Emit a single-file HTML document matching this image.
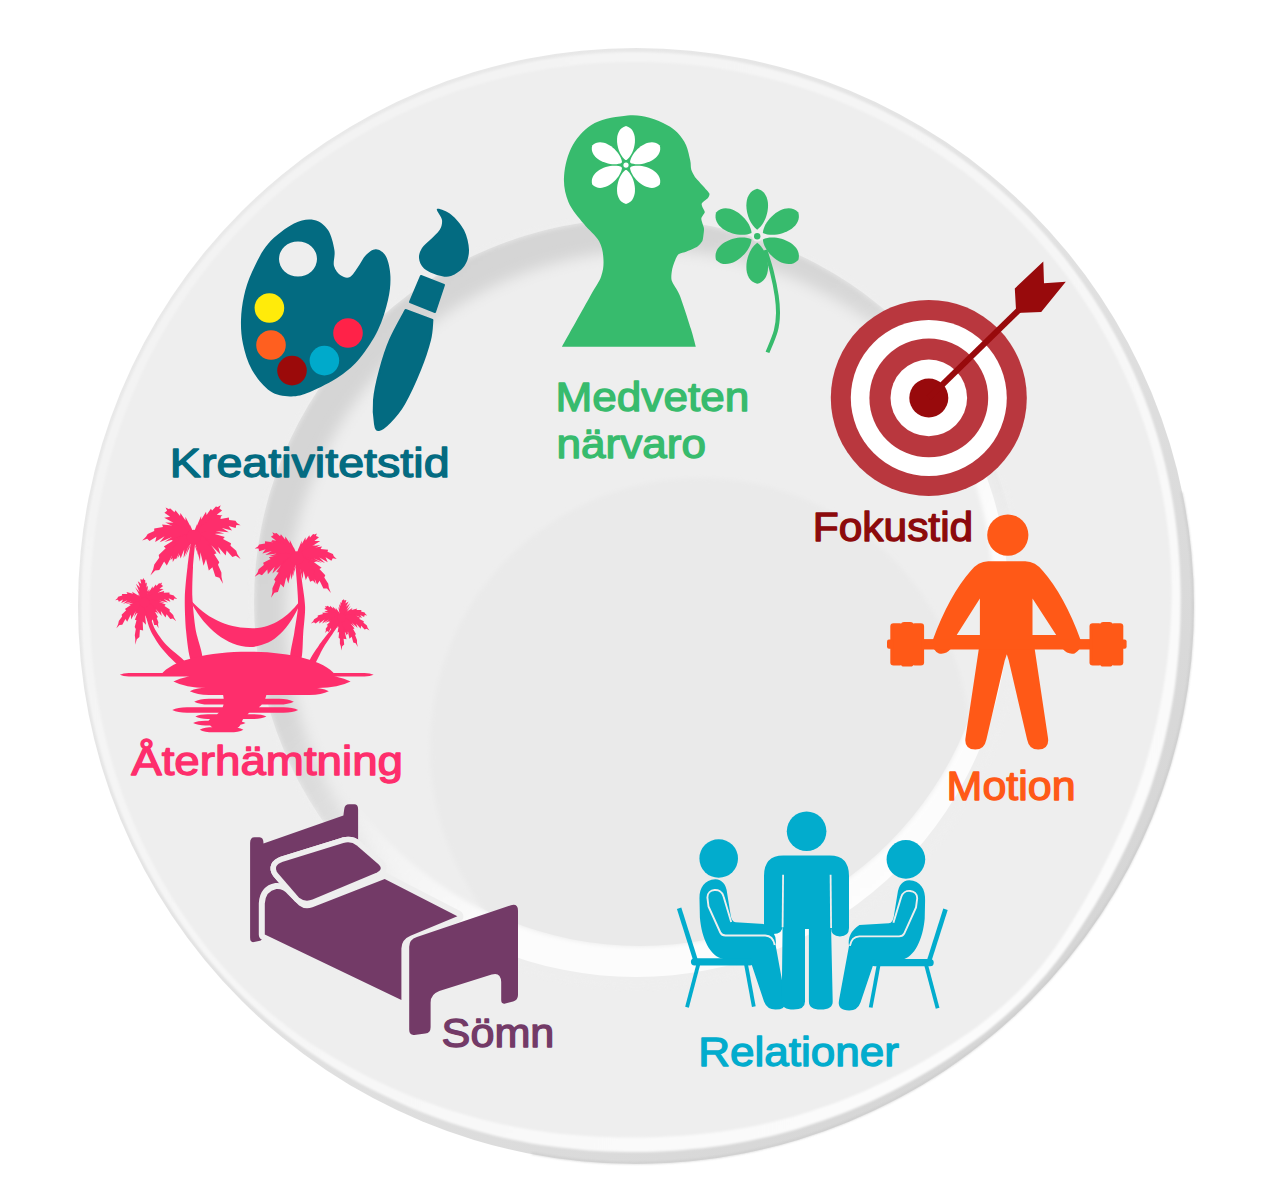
<!DOCTYPE html>
<html lang="sv">
<head>
<meta charset="utf-8">
<title>Hjärnans tallrik</title>
<style>
html,body{margin:0;padding:0;background:#fff;}
body{width:1280px;height:1200px;overflow:hidden;}
svg{display:block;}
text{font-family:"Liberation Sans",sans-serif;}
</style>
</head>
<body>
<svg width="1280" height="1200" viewBox="0 0 1280 1200">
<!-- plate -->
<defs>
  <linearGradient id="rimG" x1="0.15" y1="0.15" x2="0.85" y2="0.85">
    <stop offset="0" stop-color="#e9e9e9"/>
    <stop offset="0.5" stop-color="#e2e2e2"/>
    <stop offset="1" stop-color="#d6d6d6"/>
  </linearGradient>
  <linearGradient id="whiteG" x1="0.15" y1="0.15" x2="0.85" y2="0.85">
    <stop offset="0" stop-color="#f3f3f3"/>
    <stop offset="0.5" stop-color="#f6f6f6"/>
    <stop offset="1" stop-color="#fbfbfb"/>
  </linearGradient>
  <linearGradient id="shadG" x1="0.2" y1="0.1" x2="0.8" y2="0.9">
    <stop offset="0" stop-color="#d4d4d4"/>
    <stop offset="0.35" stop-color="#d7d7d7"/>
    <stop offset="0.6" stop-color="#e6e6e6"/>
    <stop offset="0.75" stop-color="#eeeeee"/>
  </linearGradient>
  <linearGradient id="hiG" gradientUnits="userSpaceOnUse" x1="380" y1="300" x2="900" y2="900">
    <stop offset="0" stop-color="#fcfcfc" stop-opacity="0"/>
    <stop offset="0.45" stop-color="#fcfcfc" stop-opacity="0"/>
    <stop offset="0.7" stop-color="#fcfcfc" stop-opacity="1"/>
    <stop offset="1" stop-color="#fdfdfd" stop-opacity="1"/>
  </linearGradient>
  <radialGradient id="faceG" gradientUnits="userSpaceOnUse" cx="630" cy="600" r="545">
    <stop offset="0" stop-color="#eeeeee"/>
    <stop offset="1" stop-color="#eeeeee"/>
  </radialGradient>
  <filter id="soft" x="-5%" y="-5%" width="110%" height="110%"><feGaussianBlur stdDeviation="2"/></filter>
  <filter id="soft1" x="-5%" y="-5%" width="110%" height="110%"><feGaussianBlur stdDeviation="0.8"/></filter>
  <filter id="soft7" x="-5%" y="-5%" width="110%" height="110%"><feGaussianBlur stdDeviation="7"/></filter>
  <filter id="soft9" x="-5%" y="-5%" width="110%" height="110%"><feGaussianBlur stdDeviation="9"/></filter>
  <filter id="soft2" x="-10%" y="-10%" width="120%" height="120%"><feGaussianBlur stdDeviation="12"/></filter>
  <clipPath id="wellClip"><circle cx="637" cy="602" r="383"/></clipPath>
  <clipPath id="hiClip"><circle cx="636" cy="604" r="373"/></clipPath>
  <clipPath id="innerClip"><circle cx="640" cy="594" r="352"/></clipPath>
  <clipPath id="plateClip"><circle cx="636" cy="606" r="558"/></clipPath>
</defs>
<rect width="1280" height="1200" fill="#ffffff"/>
<circle cx="636" cy="606" r="558" fill="url(#rimG)"/>
<circle cx="636" cy="606" r="557.2" fill="none" stroke="#c9c9c9" stroke-width="1.6" stroke-dasharray="1100 2406" stroke-dashoffset="120" opacity="0.9" filter="url(#soft1)"/>
<g clip-path="url(#plateClip)">
<path d="M81 606 L81.1 596.3 L81.4 586.6 L81.8 577 L82.4 567.3 L83.2 557.6 L84.1 548 L85.2 538.4 L86.5 528.8 L87.9 519.2 L89.5 509.6 L91.3 500.1 L93.3 490.6 L95.4 481.2 L97.6 471.8 L100.1 462.4 L102.7 453.1 L105.4 443.8 L108.4 434.6 L111.4 425.4 L114.7 416.3 L118.1 407.2 L121.6 398.2 L125.4 389.2 L129.2 380.4 L133.3 371.6 L137.4 362.8 L141.8 354.2 L146.2 345.6 L150.9 337.1 L155.6 328.7 L160.6 320.3 L165.6 312.1 L170.8 303.9 L176.2 295.9 L181.7 287.9 L187.3 280 L193.1 272.2 L199 264.6 L205 257 L211.2 249.5 L217.5 242.2 L223.9 234.9 L230.4 227.8 L237.1 220.8 L243.9 213.9 L250.8 207.1 L257.8 200.5 L265 194 L272.2 187.5 L279.6 181.3 L287.1 175.1 L294.7 169.1 L302.3 163.2 L310.1 157.5 L318 151.9 L326 146.4 L334.1 141.1 L342.2 135.9 L350.5 130.8 L358.8 125.9 L367.3 121.2 L375.8 116.6 L384.4 112.1 L393 107.8 L401.8 103.7 L410.6 99.7 L419.4 95.8 L428.4 92.1 L437.4 88.6 L446.4 85.2 L455.6 82 L464.7 78.9 L474 76 L483.2 73.3 L492.6 70.7 L501.9 68.3 L511.3 66.1 L520.8 64 L530.3 62.1 L539.8 60.3 L549.3 58.7 L558.9 57.3 L568.5 56.1 L578.1 55 L587.7 54.1 L597.4 53.3 L607 52.7 L616.7 52.3 L626.3 52.1 L636 52 L645.7 52.1 L655.3 52.4 L665 52.8 L674.6 53.4 L684.3 54.2 L693.9 55.2 L703.5 56.3 L713.1 57.6 L722.6 59 L732.2 60.6 L741.7 62.4 L751.1 64.4 L760.6 66.5 L769.9 68.8 L779.3 71.2 L788.6 73.8 L797.9 76.6 L807.1 79.5 L816.2 82.6 L825.3 85.8 L834.4 89.2 L843.3 92.8 L852.3 96.5 L861.1 100.4 L869.9 104.4 L878.6 108.6 L887.2 112.9 L895.8 117.4 L904.3 122 L912.7 126.8 L921 131.7 L929.2 136.8 L937.3 142 L945.4 147.3 L953.3 152.8 L961.2 158.5 L968.9 164.2 L976.6 170.1 L984.1 176.1 L991.5 182.3 L998.8 188.6 L1006 195.1 L1013.1 201.6 L1020 208.3 L1026.9 215.1 L1033.5 222.1 L1040.1 229.2 L1046.5 236.3 L1052.8 243.7 L1059 251.1 L1065 258.6 L1070.9 266.2 L1076.6 274 L1082.2 281.8 L1087.7 289.7 L1093 297.8 L1098.2 305.9 L1103.2 314.1 L1108.1 322.3 L1112.8 330.7 L1117.4 339.1 L1121.9 347.7 L1126.2 356.3 L1130.3 364.9 L1134.3 373.7 L1138.1 382.5 L1141.7 391.3 L1145.2 400.3 L1148.6 409.2 L1151.7 418.3 L1154.7 427.4 L1157.6 436.5 L1160.2 445.7 L1162.7 455 L1165.1 464.2 L1167.2 473.5 L1169.2 482.9 L1171 492.3 L1172.7 501.7 L1174.2 511.1 L1175.5 520.5 L1176.7 530 L1177.7 539.5 L1178.5 549 L1179.2 558.5 L1179.8 568 L1180.2 577.5 L1180.5 587 L1180.7 596.5 L1180.6 606 L1180.5 615.5 L1180.2 625 L1179.8 634.5 L1179.2 644 L1178.5 653.5 L1177.6 662.9 L1176.6 672.4 L1175.5 681.8 L1174.2 691.2 L1172.7 700.6 L1171 710 L1169.2 719.3 L1167.2 728.6 L1165.1 737.9 L1162.8 747.2 L1160.3 756.4 L1157.7 765.5 L1154.9 774.6 L1152 783.7 L1148.9 792.7 L1145.6 801.6 L1142.2 810.5 L1138.6 819.3 L1134.9 828.1 L1131 836.8 L1127 845.5 L1122.8 854.1 L1118.6 862.6 L1114.2 871.1 L1109.7 879.5 L1105.1 887.8 L1100.3 896.1 L1095.4 904.4 L1090.4 912.5 L1085.3 920.6 L1080.1 928.6 L1074.7 936.6 L1069.2 944.5 L1063.6 952.3 L1057.8 959.9 L1051.8 967.4 L1045.7 974.9 L1039.3 982.1 L1032.8 989.2 L1026.2 996.2 L1019.3 1002.9 L1012.3 1009.5 L1005.2 1016 L997.9 1022.3 L990.5 1028.4 L983 1034.5 L975.2 1040.2 L967.4 1045.8 L959.5 1051.3 L951.6 1056.7 L943.5 1061.9 L935.4 1067 L927.2 1071.9 L918.9 1076.8 L910.5 1081.5 L902.1 1086 L893.6 1090.4 L885 1094.7 L876.4 1098.9 L867.7 1102.9 L858.9 1106.7 L850.1 1110.4 L841.2 1113.9 L832.3 1117.3 L823.3 1120.6 L814.2 1123.6 L805.1 1126.6 L796 1129.4 L786.8 1132 L777.6 1134.4 L768.3 1136.7 L759 1138.8 L749.7 1140.8 L740.3 1142.6 L730.9 1144.2 L721.5 1145.7 L712 1147 L702.6 1148.2 L693.1 1149.1 L683.6 1150 L674.1 1150.7 L664.6 1151.2 L655.1 1151.7 L645.5 1151.9 L636 1152 L626.5 1152 L616.9 1151.8 L607.4 1151.4 L597.9 1151 L588.4 1150.4 L578.9 1149.6 L569.4 1148.6 L559.9 1147.6 L550.4 1146.3 L541 1144.9 L531.5 1143.4 L522.1 1141.6 L512.8 1139.7 L503.4 1137.7 L494.1 1135.5 L484.9 1133.1 L475.6 1130.5 L466.4 1127.8 L457.3 1125 L448.2 1122 L439.2 1118.8 L430.2 1115.5 L421.2 1112 L412.3 1108.4 L403.5 1104.6 L394.8 1100.6 L386.1 1096.5 L377.4 1092.3 L368.9 1087.9 L360.4 1083.4 L352 1078.7 L343.7 1073.8 L335.4 1068.8 L327.3 1063.7 L319.2 1058.4 L311.2 1053 L303.4 1047.4 L295.6 1041.7 L287.9 1035.9 L280.3 1029.9 L272.8 1023.8 L265.5 1017.5 L258.3 1011.1 L251.2 1004.5 L244.2 997.8 L237.3 991 L230.6 984.1 L224 977 L217.5 969.8 L211.2 962.5 L205 955 L198.9 947.5 L193 939.8 L187.3 932 L181.6 924.2 L176.1 916.2 L170.8 908.1 L165.5 900 L160.5 891.7 L155.5 883.4 L150.7 875 L146.1 866.5 L141.6 857.9 L137.3 849.2 L133.1 840.5 L129.1 831.7 L125.2 822.8 L121.5 813.9 L117.9 804.9 L114.5 795.8 L111.3 786.7 L108.2 777.5 L105.3 768.3 L102.5 759 L99.9 749.6 L97.5 740.3 L95.2 730.8 L93.1 721.4 L91.2 711.9 L89.4 702.4 L87.8 692.8 L86.4 683.2 L85.1 673.6 L84 664 L83.1 654.4 L82.4 644.7 L81.8 635 L81.3 625.4 L81.1 615.7Z" fill="url(#whiteG)" filter="url(#soft1)"/>
<path d="M89.9 606 L90 596.5 L90.2 586.9 L90.7 577.4 L91.3 567.9 L92 558.4 L92.9 548.9 L94 539.4 L95.2 530 L96.6 520.6 L98.2 511.2 L99.9 501.8 L101.8 492.5 L103.9 483.1 L106.1 473.9 L108.4 464.6 L111 455.5 L113.7 446.3 L116.5 437.2 L119.5 428.2 L122.7 419.2 L126 410.2 L129.5 401.4 L133.2 392.6 L137 383.8 L140.9 375.1 L145 366.5 L149.2 358 L153.6 349.5 L158.2 341.1 L162.9 332.8 L167.7 324.6 L172.7 316.5 L177.8 308.4 L183 300.5 L188.4 292.6 L194 284.8 L199.6 277.2 L205.4 269.6 L211.3 262.1 L217.4 254.8 L223.6 247.5 L229.9 240.4 L236.4 233.3 L243 226.4 L249.7 219.7 L256.5 213 L263.4 206.4 L270.5 200 L277.6 193.7 L284.9 187.6 L292.3 181.5 L299.8 175.7 L307.4 169.9 L315.1 164.3 L322.9 158.8 L330.7 153.4 L338.7 148.2 L346.8 143.2 L354.9 138.2 L363.2 133.4 L371.5 128.8 L379.9 124.3 L388.3 120 L396.9 115.8 L405.5 111.7 L414.2 107.8 L422.9 104.1 L431.8 100.5 L440.6 97 L449.6 93.8 L458.5 90.6 L467.6 87.7 L476.7 84.9 L485.8 82.2 L495 79.7 L504.2 77.4 L513.5 75.2 L522.8 73.2 L532.1 71.4 L541.4 69.7 L550.8 68.2 L560.2 66.9 L569.7 65.7 L579.1 64.6 L588.6 63.8 L598 63.1 L607.5 62.5 L617 62.2 L626.5 61.9 L636 61.9 L645.5 62 L655 62.3 L664.5 62.7 L673.9 63.3 L683.4 64.1 L692.9 65 L702.3 66.1 L711.7 67.3 L721.1 68.7 L730.5 70.3 L739.8 72 L749.1 73.9 L758.4 75.9 L767.6 78.2 L776.8 80.5 L785.9 83.1 L795.1 85.8 L804.1 88.6 L813.1 91.6 L822.1 94.8 L831 98.1 L839.8 101.6 L848.6 105.2 L857.3 109 L865.9 113 L874.5 117.1 L883 121.3 L891.4 125.7 L899.7 130.2 L908 134.9 L916.2 139.7 L924.3 144.7 L932.3 149.8 L940.2 155 L948 160.4 L955.8 165.9 L963.4 171.5 L970.9 177.3 L978.4 183.2 L985.7 189.3 L992.9 195.5 L999.9 201.8 L1006.9 208.3 L1013.7 214.8 L1020.5 221.5 L1027 228.4 L1033.5 235.3 L1039.8 242.4 L1046 249.6 L1052.1 256.9 L1058 264.3 L1063.8 271.8 L1069.4 279.4 L1074.9 287.1 L1080.3 294.9 L1085.5 302.8 L1090.6 310.8 L1095.6 318.8 L1100.4 327 L1105 335.2 L1109.6 343.5 L1113.9 351.9 L1118.1 360.3 L1122.2 368.9 L1126.1 377.5 L1129.9 386.1 L1133.5 394.8 L1136.9 403.6 L1140.2 412.5 L1143.3 421.3 L1146.3 430.3 L1149.1 439.3 L1151.7 448.3 L1154.2 457.4 L1156.5 466.5 L1158.6 475.7 L1160.6 484.9 L1162.4 494.1 L1164.1 503.3 L1165.6 512.6 L1166.9 521.9 L1168.1 531.2 L1169.1 540.5 L1169.9 549.9 L1170.6 559.2 L1171.1 568.6 L1171.4 577.9 L1171.6 587.3 L1171.6 596.7 L1171.5 606 L1171.1 615.3 L1170.6 624.7 L1170 634 L1169.2 643.3 L1168.3 652.6 L1167.2 661.8 L1166 671.1 L1164.6 680.3 L1163.1 689.5 L1161.5 698.7 L1159.7 707.8 L1157.8 716.9 L1155.8 726 L1153.6 735.1 L1151.3 744.1 L1148.8 753.1 L1146.3 762 L1143.5 770.9 L1140.7 779.8 L1137.6 788.6 L1134.4 797.3 L1131.1 806 L1127.6 814.7 L1124 823.3 L1120.2 831.8 L1116.2 840.2 L1112.3 848.7 L1108.2 857.1 L1103.9 865.4 L1099.7 873.7 L1095.3 881.9 L1090.7 890.1 L1086.1 898.3 L1081.4 906.4 L1076.5 914.5 L1071.6 922.5 L1066.6 930.5 L1061.4 938.4 L1056.2 946.3 L1050.6 953.9 L1044.9 961.4 L1039 968.9 L1032.8 976 L1026.4 983 L1019.9 989.9 L1013.1 996.5 L1006.2 1003 L999.2 1009.3 L991.8 1015.3 L984.4 1021.3 L976.9 1027 L969.2 1032.4 L961.4 1037.8 L953.5 1043 L945.5 1048 L937.5 1053 L929.4 1057.8 L921.2 1062.4 L913 1067 L904.8 1071.5 L896.4 1075.8 L888.1 1080 L879.6 1084.1 L871.1 1088.1 L862.6 1091.9 L853.9 1095.5 L845.3 1099 L836.5 1102.4 L827.8 1105.6 L818.9 1108.6 L810.1 1111.5 L801.2 1114.3 L792.2 1116.9 L783.2 1119.3 L774.2 1121.6 L765.1 1123.7 L756 1125.7 L746.8 1127.5 L737.7 1129.1 L728.5 1130.6 L719.3 1131.9 L710.1 1133.1 L700.8 1134.1 L691.6 1134.9 L682.3 1135.7 L673.1 1136.3 L663.8 1136.8 L654.5 1137.2 L645.3 1137.4 L636 1137.5 L626.7 1137.5 L617.4 1137.4 L608.2 1137.1 L598.9 1136.7 L589.6 1136.2 L580.3 1135.5 L571.1 1134.8 L561.8 1133.9 L552.6 1132.9 L543.3 1131.6 L534.1 1130.3 L524.9 1128.7 L515.7 1127 L506.6 1125.2 L497.4 1123.2 L488.3 1121 L479.3 1118.7 L470.2 1116.2 L461.2 1113.6 L452.2 1110.9 L443.3 1108 L434.4 1104.9 L425.6 1101.7 L416.8 1098.4 L408 1094.9 L399.3 1091.2 L390.7 1087.5 L382.1 1083.5 L373.6 1079.4 L365.1 1075.2 L356.7 1070.8 L348.4 1066.3 L340.1 1061.6 L332 1056.8 L323.9 1051.8 L315.8 1046.7 L307.9 1041.4 L300.1 1036 L292.3 1030.4 L284.7 1024.6 L277.2 1018.7 L269.8 1012.7 L262.6 1006.4 L255.5 1000 L248.5 993.5 L241.7 986.8 L235 979.9 L228.4 973 L222.1 965.8 L215.8 958.6 L209.7 951.2 L203.8 943.7 L198.1 936 L192.4 928.3 L186.9 920.4 L181.6 912.5 L176.4 904.5 L171.3 896.4 L166.4 888.2 L161.6 879.9 L157 871.5 L152.5 863.1 L148.1 854.6 L143.9 846 L139.9 837.3 L136 828.6 L132.2 819.8 L128.7 811 L125.2 802.1 L121.9 793.1 L118.8 784.1 L115.8 775 L113 765.9 L110.4 756.7 L107.9 747.5 L105.5 738.3 L103.4 729 L101.3 719.6 L99.5 710.3 L97.8 700.9 L96.3 691.5 L94.9 682 L93.7 672.6 L92.7 663.1 L91.8 653.6 L91.1 644.1 L90.6 634.6 L90.2 625.1 L89.9 615.5Z" fill="url(#faceG)" filter="url(#soft1)"/>
</g>
<g clip-path="url(#wellClip)">
  <circle cx="637" cy="602" r="400" fill="url(#shadG)" filter="url(#soft)"/>
  <circle cx="652" cy="616" r="366" fill="#eeeeee" filter="url(#soft7)"/>
</g>
<circle cx="637" cy="602" r="383.5" fill="none" stroke="#efefef" stroke-width="3" filter="url(#soft)" opacity="0.8"/>
<g clip-path="url(#hiClip)">
  <path fill="url(#hiG)" fill-rule="evenodd" filter="url(#soft)" d="M236 604 a400 400 0 1 0 800 0 a400 400 0 1 0 -800 0Z M287 594 a353 353 0 1 1 706 0 a353 353 0 1 1 -706 0Z"/>
</g>
<g clip-path="url(#innerClip)">
  <circle cx="700" cy="748" r="270" fill="#eaeaea" filter="url(#soft)"/>
</g>
<!-- palette -->
<g>
<path fill="#036b81" fill-rule="evenodd" d="M241 320 C241.2 312 242.2 304 244 296 C245.8 288 248 280.7 252 272 C256 263.3 261 252.1 268 244 C275 235.9 286.3 227.6 294 223.6 C301.7 219.6 308.3 218.9 314 220 C319.7 221.1 324.6 225 328 230 C331.4 235 333.4 244 334.4 250 C335.4 256 332.9 261.7 334 266 C335.1 270.3 338.3 273.8 341 275.6 C343.7 277.4 347.2 278.4 350 277 C352.8 275.6 355.3 270.7 358 267 C360.7 263.3 363 258 366 255 C369 252 372.7 249 376 249.2 C379.3 249.4 383.6 251.9 386 256.4 C388.4 260.9 390.1 268.7 390.4 276 C390.7 283.3 390.1 291 388 300 C385.9 309 382.7 320.3 378 330 C373.3 339.7 366.3 350.3 360 358 C353.7 365.7 348.3 370.3 340 376 C331.7 381.7 318.3 388.6 310 392 C301.7 395.4 296.7 396.6 290 396.4 C283.3 396.2 276.3 395.4 270 391 C263.7 386.6 256.5 377.8 252 370 C247.5 362.2 244.8 352.3 243 344 C241.2 335.7 240.8 328 241 320Z M279 259 a19 17.5 0 1 0 38 0 a19 17.5 0 1 0 -38 0Z"/>
<circle cx="269.4" cy="308" r="14.8" fill="#ffeb0a"/>
<circle cx="271" cy="345" r="14.8" fill="#ff5f1f"/>
<circle cx="292" cy="370.6" r="14.8" fill="#9b0a0a"/>
<circle cx="324.4" cy="360.6" r="14.8" fill="#00aacb"/>
<circle cx="348" cy="333" r="14.8" fill="#ff2248"/>
<path fill="#036b81" d="M437 209 C438.5 208.1 446.5 210.9 451 214.4 C455.5 217.9 461 224.1 464 230 C467 235.9 468.9 244 469 250 C469.1 256 467.4 261.7 464.4 266 C461.4 270.3 455.4 274.5 451 276 C446.6 277.5 442.5 276.5 438 275.2 C433.5 273.9 427.2 271.3 424 268.4 C420.8 265.5 419.3 261.4 419 258 C418.7 254.6 420.2 251 422 248 C423.8 245 427.1 243 430 240 C432.9 237 437.6 233.3 439.6 230 C441.6 226.7 442.4 223.5 442 220 C441.6 216.5 435.5 209.9 437 209Z"/>
<path fill="#036b81" stroke="#036b81" stroke-width="2" stroke-linejoin="round" d="M421 276 L444 285 L435 312 L410 302Z"/>
<path fill="#036b81" stroke="#036b81" stroke-width="2" stroke-linejoin="round" d="M432.4 320 C432 323.3 432.1 331.7 430 340 C427.9 348.3 424.3 359.3 420 370 C415.7 380.7 409 395.3 404 404 C399 412.7 394.2 417.7 390 422 C385.8 426.3 381.5 429.7 379 430 C376.5 430.3 375.8 429 375 424 C374.2 419 373.2 409 374 400 C374.8 391 377.3 380 380 370 C382.7 360 385.7 350 390 340 C394.3 330 403 315 405.6 310Z"/>
</g>
<!-- head -->
<g>
<path fill="#37bb6d" d="M694.8 176.7 C694.2 175.5 692.1 172.4 691.3 169.7 C690.5 167 691.1 164.4 690.2 160.3 C689.3 156.2 688.1 149.8 686.1 145.2 C684 140.6 681 136.4 677.8 133 C674.6 129.6 671.6 127.4 666.9 124.9 C662.1 122.3 655.9 119.2 649.4 117.7 C642.8 116.1 636.6 114.6 627.5 115.5 C618.4 116.4 603.8 118.2 594.7 123.1 C585.6 128 577.9 136.2 572.8 145 C567.7 153.8 564.8 166.1 564.1 175.6 C563.3 185.1 565.2 193.9 568.4 201.9 C571.7 209.9 578.6 217.2 583.8 223.8 C588.9 230.3 595.8 235.4 599.1 241.2 C602.3 247.1 603.1 252.9 603.4 258.8 C603.8 264.6 603.4 270.1 601.2 276.2 C599.1 282.4 596.9 284.2 590.3 295.9 C583.8 307.7 566.6 338.2 561.9 346.7 L695.8 346.7 C695.2 344.6 692.8 334.7 690.9 328.8 C689.1 322.8 682.2 301.6 680 295.9 C677.8 290.3 672.6 283.7 671.7 280.6 C670.8 277.6 671.7 272 672.1 269.7 C672.5 267.4 674.2 262.5 675 260.7 C675.7 258.9 677.1 255.4 678.5 254.3 C679.9 253.2 684.5 252.3 686.7 251.4 C688.9 250.5 695.4 247.9 697.2 246.7 C699 245.5 701.6 242.4 702.4 240.9 C703.1 239.4 703.4 235.3 703.6 233.8 C703.8 232.3 704.2 229.8 703.9 228 C703.6 226.2 701.2 220.5 701.3 218.7 C701.4 216.9 704.6 213.5 704.8 212.3 C705 211.1 703.3 209.2 703 208.2 C702.6 207.2 701.2 204.6 701.8 203.5 C702.3 202.3 706.8 199.4 707.7 198.3 C708.6 197.1 709.9 195 709.4 193.6 C708.8 192.2 704.7 188 703 186 C701.3 184 695.7 177.8 694.8 176.7Z"/>
<path d="M0 -4.5 C9.86 -11.40 13.92 -35.55 0 -39 C-13.92 -35.55 -9.86 -11.40 0 -4.5Z" fill="#ffffff" transform="translate(626 165.1) rotate(0)"/>
<path d="M0 -4.5 C9.86 -11.40 13.92 -35.55 0 -39 C-13.92 -35.55 -9.86 -11.40 0 -4.5Z" fill="#ffffff" transform="translate(626 165.1) rotate(60)"/>
<path d="M0 -4.5 C9.86 -11.40 13.92 -35.55 0 -39 C-13.92 -35.55 -9.86 -11.40 0 -4.5Z" fill="#ffffff" transform="translate(626 165.1) rotate(120)"/>
<path d="M0 -4.5 C9.86 -11.40 13.92 -35.55 0 -39 C-13.92 -35.55 -9.86 -11.40 0 -4.5Z" fill="#ffffff" transform="translate(626 165.1) rotate(180)"/>
<path d="M0 -4.5 C9.86 -11.40 13.92 -35.55 0 -39 C-13.92 -35.55 -9.86 -11.40 0 -4.5Z" fill="#ffffff" transform="translate(626 165.1) rotate(240)"/>
<path d="M0 -4.5 C9.86 -11.40 13.92 -35.55 0 -39 C-13.92 -35.55 -9.86 -11.40 0 -4.5Z" fill="#ffffff" transform="translate(626 165.1) rotate(300)"/>
<circle cx="626" cy="165.1" r="5" fill="#37bb6d"/>
<circle cx="626" cy="165.1" r="2.6" fill="#ffffff"/>
<path fill="none" stroke="#37bb6d" stroke-width="4" stroke-linecap="butt" d="M765.3 250 C766.4 253.6 770 264.2 771.9 271.9 C773.8 279.5 775.7 289 776.7 295.9 C777.7 302.9 778.1 307.6 778 313.4 C777.9 319.3 777.6 324.4 775.8 330.9 C774.1 337.4 768.9 348.8 767.5 352.4"/>
<path d="M0 -6.5 C11.9 -14.70 16.8 -43.40 0 -47.5 C-16.8 -43.40 -11.9 -14.70 0 -6.5Z" fill="#37bb6d" transform="translate(757.2 236.2) rotate(0)"/>
<path d="M0 -6.5 C11.9 -14.70 16.8 -43.40 0 -47.5 C-16.8 -43.40 -11.9 -14.70 0 -6.5Z" fill="#37bb6d" transform="translate(757.2 236.2) rotate(60)"/>
<path d="M0 -6.5 C11.9 -14.70 16.8 -43.40 0 -47.5 C-16.8 -43.40 -11.9 -14.70 0 -6.5Z" fill="#37bb6d" transform="translate(757.2 236.2) rotate(120)"/>
<path d="M0 -6.5 C11.9 -14.70 16.8 -43.40 0 -47.5 C-16.8 -43.40 -11.9 -14.70 0 -6.5Z" fill="#37bb6d" transform="translate(757.2 236.2) rotate(180)"/>
<path d="M0 -6.5 C11.9 -14.70 16.8 -43.40 0 -47.5 C-16.8 -43.40 -11.9 -14.70 0 -6.5Z" fill="#37bb6d" transform="translate(757.2 236.2) rotate(240)"/>
<path d="M0 -6.5 C11.9 -14.70 16.8 -43.40 0 -47.5 C-16.8 -43.40 -11.9 -14.70 0 -6.5Z" fill="#37bb6d" transform="translate(757.2 236.2) rotate(300)"/>
<circle cx="757.2" cy="236.2" r="5.4" fill="#efefef"/>
<circle cx="757.2" cy="236.2" r="3.2" fill="#37bb6d"/>
</g>
<!-- target -->
<g>
<circle cx="928.8" cy="397.9" r="98" fill="#b9373e"/>
<circle cx="928.8" cy="397.9" r="78" fill="#ffffff"/>
<circle cx="928.8" cy="397.9" r="59.4" fill="#b9373e"/>
<circle cx="928.8" cy="397.9" r="38.3" fill="#ffffff"/>
<circle cx="928.8" cy="397.9" r="19.5" fill="#980a0c"/>
<path d="M928.8 397.9 L1020 308.8" stroke="#980a0c" stroke-width="6" fill="none"/>
<path fill="#980a0c" d="M1014.8 288.5 L1043.3 261.5 L1044 283.3 L1065.8 281.7 L1041.2 312.1 L1016.2 313.1Z"/>
</g>
<!-- motion -->
<g>
<circle cx="1007.8" cy="535.1" r="20.6" fill="#ff5917"/>
<path fill="#ff5917" fill-rule="evenodd" d="M1006.8 561.3 L988.3 561.3 Q977.9 561.5 970.6 571.1 Q949.3 595.3 932.6 640.4 Q931.1 649.5 938.9 653.4 Q946.1 654.7 950.6 649.1 L978.8 649.1 L965.6 737.2 Q963.6 749.2 975.3 749.6 Q984.4 749.6 986.4 739.4 L1004.8 660.3 Q1006.8 654.3 1006.8 654.3 L1008.7 660.3 L1027.1 739.4 Q1029.1 749.6 1038.2 749.6 Q1049.9 749.2 1047.9 737.2 L1034.7 649.1 L1062.9 649.1 Q1067.4 654.7 1074.6 653.4 Q1082.4 649.5 1080.8 640.4 Q1064.2 595.3 1042.9 571.1 Q1035.6 561.5 1025.2 561.3 L1006.8 561.3 Z M979.9 598.6 L956.7 635 L979.9 635Z M1032.5 598.6 L1032.5 635 L1056.2 635Z"/>
<rect x="921.2" y="639.1" width="171.2" height="10.4" fill="#ff5917"/>
<rect x="890.3" y="623.2" width="12.5" height="42.2" rx="3.2" fill="#ff5917"/>
<rect x="900.9" y="622" width="12.6" height="44.6" rx="3.2" fill="#ff5917"/>
<rect x="911.6" y="623.2" width="12.5" height="42.2" rx="3.2" fill="#ff5917"/>
<rect x="893.3" y="625" width="27.8" height="38.6" fill="#ff5917"/>
<rect x="1089.5" y="623.2" width="12.5" height="42.2" rx="3.2" fill="#ff5917"/>
<rect x="1100.1" y="622" width="12.6" height="44.6" rx="3.2" fill="#ff5917"/>
<rect x="1110.8" y="623.2" width="12.5" height="42.2" rx="3.2" fill="#ff5917"/>
<rect x="1092.5" y="625" width="27.8" height="38.6" fill="#ff5917"/>
<rect x="887" y="639.4" width="6" height="9.4" rx="2" fill="#ff5917"/>
<rect x="1120.6" y="639.4" width="6" height="9.4" rx="2" fill="#ff5917"/>
</g>
<!-- relations -->
<g>
<circle cx="718.7" cy="858.5" r="19.3" fill="#02accd"/>
<path fill="#02accd" d="M715.3 879.3 C704 879.8 699 888.4 699.5 899.7 L699.9 917.8 C701.7 938.2 709.6 956.3 723.2 959 L749.8 959 L764 1001.6 Q767 1009.6 775.4 1009.6 Q787.4 1009.6 785.5 999.4 L775.6 945 Q777.6 932.5 765.2 924.2 L735.7 922.3 Q731.6 921.9 730.7 915.5 L727.1 892.9 Q725.5 879.8 715.3 879.3 Z"/>
<path fill="none" stroke="#eeeeee" stroke-width="1.9" d="M731.2 921.9 L723.5 896.3 C721 887.2 707.4 888.4 707.4 897.4 L708.5 906.5 L720.3 932.5 Q721.7 935.5 725.5 935.5 L765.2 935.5 Q773.1 935.9 774.7 945"/>
<path d="M679.1 908.3 L696.1 962" stroke="#02accd" stroke-width="4.6" fill="none"/>
<path d="M694.5 961.8 L749.8 961.8" stroke="#02accd" stroke-width="7.2" stroke-linecap="round" fill="none"/>
<path d="M698.5 963.6 L687 1007.3" stroke="#02accd" stroke-width="3.8" fill="none"/>
<path d="M745.9 963.6 L753.8 1006.6" stroke="#02accd" stroke-width="3.8" fill="none"/>
<circle cx="905.9" cy="859.4" r="19.3" fill="#02accd"/>
<path fill="#02accd" d="M909.2 880.2 C920.6 880.7 925.6 889.3 925.1 900.6 L924.7 918.7 C922.8 939.1 914.9 957.2 901.3 960 L874.8 960 L860.5 1002.5 Q857.6 1010.5 849.2 1010.5 Q837.2 1010.5 839 1000.3 L849 945.9 Q846.9 933.4 859.4 925.1 L888.9 923.2 Q892.9 922.8 893.8 916.5 L897.5 893.8 Q899.1 880.7 909.2 880.2 Z"/>
<path fill="none" stroke="#eeeeee" stroke-width="1.9" d="M893.4 922.8 L901.1 897.2 C903.6 888.1 917.2 889.3 917.2 898.3 L916 907.4 L904.3 933.4 Q902.9 936.4 899.1 936.4 L859.4 936.4 Q851.5 936.8 849.9 945.9"/>
<path d="M945.5 909.2 L928.5 962.9" stroke="#02accd" stroke-width="4.6" fill="none"/>
<path d="M930.1 962.7 L874.8 962.7" stroke="#02accd" stroke-width="7.2" stroke-linecap="round" fill="none"/>
<path d="M926 964.5 L937.6 1008.2" stroke="#02accd" stroke-width="3.8" fill="none"/>
<path d="M878.7 964.5 L870.7 1007.5" stroke="#02accd" stroke-width="3.8" fill="none"/>
<circle cx="806.6" cy="831.3" r="19.8" fill="#02accd"/>
<path fill="#02accd" d="M783.3 855.5 L829.7 855.5 Q849 855.5 849 875.9 L849 928 Q849 936.4 839.9 936.4 Q831.1 936.4 831.1 928 L832.7 1001.6 Q832.7 1009.6 820.7 1009.6 Q808.9 1009.6 808.9 1001.6 L808.9 929.1 L805 929.1 L805 1001.6 Q805 1009.6 793.5 1009.6 Q781.7 1009.6 781.7 1001.6 L782.6 925.7 Q782.6 934.1 773.3 934.1 Q764 934.1 764 925.7 L764 875.9 Q764 855.5 783.3 855.5 Z"/>
<path d="M783.1 874.8 L782.6 927.3" stroke="#eeeeee" stroke-width="1.8" fill="none"/>
<path d="M830.6 874.8 L831.1 928" stroke="#eeeeee" stroke-width="1.8" fill="none"/>
</g>
<!-- bed -->
<g>
<path fill="#733a67" d="M250.1 842.9 Q250.1 837.2 254.5 837.2 L259.6 837.2 Q263.5 837.2 263.5 843.4 L343.4 815.5 L344.2 809.3 Q344.7 804.2 349.1 804.2 L354.3 804.2 Q358.1 804.2 358.1 809.3 L358.1 872.5 L264.8 934.4 L263.5 935.7 Q263 940 258.9 941.1 L253.7 942.1 Q250.1 942.6 250.1 937.5 Z"/>
<path fill="#eeeeee" stroke="#eeeeee" stroke-width="11" stroke-linejoin="round" d="M282.9 861.7 L343.4 842.9 Q351.2 840.8 356.8 845.4 L379 864.8 Q383.4 869.4 377 872.5 L312.5 899.6 Q304.8 902.4 299.1 897.8 L277.7 873 Q272.5 865.3 282.9 861.7 Z"/>
<path fill="#eeeeee" stroke="#eeeeee" stroke-width="12" stroke-linejoin="round" d="M264.8 903.4 Q265.6 891.1 276.4 889 Q282.9 888.5 288 894.4 L299.1 905.5 Q304.8 909.9 312.5 907.3 L384.7 878.9 L457.4 916.3 L410.5 935.7 Q401.4 939.5 401.4 948.6 L401.4 1000.1 L264.8 934.4 Z"/>
<path fill="#733a67" d="M264.8 903.4 Q265.6 891.1 276.4 889 Q282.9 888.5 288 894.4 L299.1 905.5 Q304.8 909.9 312.5 907.3 L384.7 878.9 L457.4 916.3 L410.5 935.7 Q401.4 939.5 401.4 948.6 L401.4 1000.1 L264.8 934.4 Z"/>
<path fill="#eeeeee" stroke="#eeeeee" stroke-width="11" stroke-linejoin="round" d="M282.9 861.7 L343.4 842.9 Q351.2 840.8 356.8 845.4 L379 864.8 Q383.4 869.4 377 872.5 L312.5 899.6 Q304.8 902.4 299.1 897.8 L277.7 873 Q272.5 865.3 282.9 861.7 Z"/>
<path fill="#733a67" d="M282.9 861.7 L343.4 842.9 Q351.2 840.8 356.8 845.4 L379 864.8 Q383.4 869.4 377 872.5 L312.5 899.6 Q304.8 902.4 299.1 897.8 L277.7 873 Q272.5 865.3 282.9 861.7 Z"/>
<path fill="#733a67" d="M409.2 946.8 Q409.2 939.5 416.9 937 L511 905.2 Q518 903.4 518 910.7 L518 995 Q518 1000.1 513.1 1001.4 L505.3 1003.5 Q501.2 1004.5 501.2 1000.1 L501.2 982.1 Q500.7 971.8 491.7 974.6 L439.3 991.1 Q430.6 994.2 430.6 1002.7 L430.6 1027.2 Q430.6 1032.9 425.4 1033.6 L414.3 1034.9 Q409.2 1035.4 409.2 1029.8 Z"/>
</g>
<!-- island -->
<g>
<path fill="#fe2e6c" d="M192 536.7 C190.9 540.7 188.4 559 187.5 567.1 C186.5 575.3 185 589.3 184.8 597.9 C184.6 606.4 185.3 623 186.1 631.3 C186.9 639.5 188.7 656.4 190.8 659.9 C193 663.4 201.7 661.6 202.3 657.6 C203 653.6 197.1 638 195.7 630 C194.4 622 192.8 606.1 192.4 597.8 C192 589.4 192.6 575.7 193 567.6 C193.4 559.5 195.6 541.2 195.5 537.1 C195.4 533 193.1 532.7 192 536.7Z"/>
<path fill="#fe2e6c" d="M193.8 536.9 L194.3 533.6 L193.4 532.4 L190 524.7 L190.1 525.8 L185.4 516.8 L185.5 520.4 L180.4 513 L180.1 516.1 L175.4 510.3 L174.4 512.3 L170.4 508.5 L168.6 509 L165.6 507.6 L165.6 507.6 L165.6 507.6 L167.1 510.7 L164.4 512.7 L170.1 516.8 L164.2 517.7 L173.4 522.7 L165.2 522.5 L177.1 528.3 L167.7 527.3 L181.9 533.1 L177.1 532 L188.5 536.6 L187.9 537Z"/>
<path fill="#fe2e6c" d="M193.8 536.9 L193.1 533.6 L193.9 532.3 L197 524.3 L197 525.4 L201.1 516 L201.3 519.6 L206 511.8 L206.6 514.9 L210.9 508.7 L212.1 510.6 L215.9 506.6 L217.8 506.9 L220.7 505.2 L220.7 505.2 L220.7 505.2 L219.4 508.5 L222.1 510.4 L216.7 514.8 L222.5 515.4 L213.6 521 L221.8 520.5 L210.2 527 L219.4 525.6 L205.5 532.2 L210.2 530.9 L199 536.3 L199.6 536.7Z"/>
<path fill="#fe2e6c" d="M193.8 536.9 L193.1 533.6 L190.6 532.2 L182.7 526.5 L182 527.2 L171.4 522.7 L172.4 525.6 L162.1 524.5 L163 527.1 L154.2 528.5 L154.2 530.9 L147.7 533.9 L146 536.8 L142.2 540.4 L142.2 540.4 L142.2 540.4 L147.2 538.7 L149.5 541 L156.4 536.7 L155.2 541.9 L164.6 536.3 L159.7 542.3 L172 537.1 L164.4 542.1 L179.3 537.8 L175 539.1 L187.8 538.1 L188.3 539Z"/>
<path fill="#fe2e6c" d="M193.8 536.9 L193.7 533.5 L196 531.5 L202.4 524 L203.2 524.4 L212 517.1 L211.7 520.1 L221 516.1 L220.5 518.9 L228.9 517.5 L229.1 519.9 L235.5 520.8 L237 522.9 L240.6 525.2 L240.6 525.2 L240.6 525.2 L236.4 525.1 L235.6 528.1 L228.6 526.1 L232.1 530.6 L221.9 528.1 L228.8 532.3 L215.6 531 L224.3 533.6 L208.7 533.9 L213 534.2 L200 536.6 L199.6 537.8Z"/>
<path fill="#fe2e6c" d="M193.8 536.9 L191.3 534.6 L189.6 534.8 L180.6 535.1 L180.9 536 L170.2 539.3 L172.8 540.7 L163.8 546.5 L165.7 548.3 L158.7 554.9 L159.2 557.8 L154.3 564.6 L153.2 569.2 L150.4 575.5 L150.4 575.5 L150.4 575.5 L155.1 570.4 L159.3 570 L164.1 561.6 L166.8 565.6 L172.4 554.8 L172.8 562 L179.8 549.9 L177.4 558.6 L185.7 545.8 L182.6 549.8 L191 541.2 L190.5 541.8Z"/>
<path fill="#fe2e6c" d="M193.8 536.9 L196.8 535.5 L197.7 536 L205.4 539.1 L204.3 539.2 L213 545.4 L209.8 545.6 L216.6 553.3 L214.2 554.3 L219.3 562.3 L218 564.7 L221.4 572.4 L221.5 577 L223 583.8 L223 583.8 L223 583.8 L219.4 577.8 L215.4 576.6 L212.4 567.3 L208.8 570.6 L206 558.9 L203.6 565.7 L200.4 552.3 L200 561.4 L196.4 546.8 L198.3 552 L194.1 541.4 L195.1 542.6Z"/>
<path fill="#fe2e6c" d="M193.8 536.9 L195.4 534 L197.4 533.7 L206.2 531.3 L206.1 532.1 L217.2 532 L214.9 534.1 L224.8 536.9 L223 539 L231 543.3 L230.5 545.7 L236.2 550.7 L237.4 554.3 L240.6 559.1 L240.6 559.1 L240.6 559.1 L235.8 555.8 L232.4 557 L226.6 550.6 L225.7 555.6 L218.3 547.1 L220.5 554.4 L211 545 L216.3 552.6 L204.6 543 L208.7 545.8 L198 540.2 L198.2 540.7Z"/>
<path fill="#fe2e6c" d="M193.8 536.9 L191.2 534.7 L191 534.7 L183.7 535.1 L185.6 535.1 L176.7 538.1 L180.9 538.2 L173.8 543.1 L177.2 543.2 L172 548.4 L174.1 549.3 L170.9 554.1 L171.5 556.4 L170.3 560.3 L170.3 560.3 L170.3 560.3 L173.4 557.5 L176.1 559.3 L179.2 552.8 L180.6 558.6 L184.2 549.4 L183.6 558.1 L188.4 547 L185.1 556.9 L191.1 544.6 L186.7 549.6 L192.9 541 L190.8 542Z"/>
<path fill="#fe2e6c" d="M193.8 536.9 L196.6 535.1 L196.4 535 L203.4 536.2 L201.2 535.8 L209.5 539.7 L205.1 539 L211.4 544.4 L207.8 543.9 L212.4 549.4 L210 549.8 L212.7 554.7 L211.8 556.6 L212.5 560.3 L212.5 560.3 L212.5 560.3 L209.7 557.6 L207 559.3 L204.6 552.9 L202.7 558.8 L200.2 549.4 L199.9 558.3 L196.5 546.9 L198.8 557.3 L194.5 544.5 L198.4 550.1 L193.7 540.9 L196 542.3Z"/>
<circle cx="193.8" cy="536.9" r="7.2" fill="#fe2e6c"/>
<path fill="#fe2e6c" d="M295.1 558.2 C294.9 561.7 296.7 577.5 297 584 C297.4 590.5 298.4 600.7 298 607.1 C297.6 613.6 295.3 625.7 294.3 632.5 C293.3 639.3 289.4 654.5 290.3 658.1 C291.3 661.7 299.3 662.7 301.1 659.4 C302.8 656.1 302.7 640.4 303.2 633.5 C303.7 626.5 305.3 613.9 305.1 607.3 C305 600.6 303.2 590.1 302.3 583.5 C301.5 576.9 299.6 561.2 298.6 557.8 C297.7 554.4 295.3 554.7 295.1 558.2Z"/>
<path fill="#fe2e6c" d="M296.9 558 L297.4 554.9 L296.7 553.9 L293.6 546.9 L293.8 548.1 L289.7 539.8 L289.9 543.3 L285.3 536.5 L285.1 539.6 L280.9 534.3 L280.1 536.3 L276.5 532.9 L274.9 533.4 L272.3 532.2 L272.3 532.2 L272.3 532.2 L273.5 535 L270.9 536.7 L276 540.4 L270.5 541.1 L278.9 545.6 L271.1 545.4 L282 550.7 L273.2 549.6 L286.3 554.8 L281.7 553.7 L292.1 557.9 L291.4 558.1Z"/>
<path fill="#fe2e6c" d="M296.9 558 L296.2 554.9 L296.5 554.2 L298.9 547.2 L298.5 548.7 L301.8 540.4 L301.7 544.2 L305.5 537.3 L305.7 540.6 L309.3 535.2 L310 537.4 L313.1 533.9 L314.5 534.6 L316.8 533.4 L316.8 533.4 L316.8 533.4 L316 536 L319 537.3 L314.4 541.1 L320.2 541.1 L312.4 546.1 L320.3 545 L310.1 550.9 L319 548.8 L306.6 554.8 L311.3 553 L301.4 557.8 L302.3 557.7Z"/>
<path fill="#fe2e6c" d="M296.9 558 L296.9 554.9 L294.9 553.1 L289 546.4 L288.3 546.8 L280.2 540.4 L280.7 543.2 L272.1 539.7 L272.7 542.3 L265 541.3 L265 543.5 L259.2 544.5 L257.9 546.5 L254.7 548.6 L254.7 548.6 L254.7 548.6 L258.6 548.5 L259.2 551.3 L265.6 549.2 L262.4 553.5 L271.7 551 L265.3 554.9 L277.3 553.5 L269.1 556 L283.5 555.8 L279.3 556.1 L291.2 557.9 L291.5 559Z"/>
<path fill="#fe2e6c" d="M296.9 558 L297.4 554.9 L299.1 553.9 L305.6 548.7 L305.7 549.5 L314.7 545.1 L313.1 547.8 L322 546.5 L320.6 548.9 L328.1 549.8 L327.5 551.8 L332.9 554.1 L333.8 556.3 L336.7 559.1 L336.7 559.1 L336.7 559.1 L332.8 558.2 L331.4 560.7 L325.6 557.3 L327.7 562.2 L319.4 557.5 L324.9 563 L314 558.6 L321.9 562.8 L308.5 559.2 L313.2 560.1 L301.8 559.3 L302 559.8Z"/>
<path fill="#fe2e6c" d="M296.9 558 L295.4 555.2 L293.6 554.9 L285.7 552.5 L285.8 553.3 L275.7 552.9 L277.9 554.9 L268.8 557.2 L270.5 559 L263.2 562.8 L263.8 565 L258.6 569.3 L257.6 572.4 L254.7 576.7 L254.7 576.7 L254.7 576.7 L259.1 573.9 L262 575.2 L267.3 569.5 L267.9 574.3 L274.7 566.7 L272.4 573.5 L281.3 565 L276 572 L287 563.4 L283 566 L293 561 L292.7 561.4Z"/>
<path fill="#fe2e6c" d="M296.9 558 L294.1 556.6 L293.4 557 L286.3 559.6 L287.5 559.6 L279.5 565 L282.6 565 L276.4 571.9 L278.7 572.5 L274.1 579.5 L275.4 581.5 L272.4 588.2 L272.4 592 L271.1 597.8 L271.1 597.8 L271.1 597.8 L274.4 592.8 L277.9 592.1 L280.6 584 L283.7 587.4 L286.3 576.9 L288.3 583.6 L291.2 571.4 L291.2 580.1 L294.6 566.8 L292.6 571.8 L296.6 562.1 L295.5 563.2Z"/>
<path fill="#fe2e6c" d="M296.9 558 L299.3 556 L300.5 556.3 L308.3 557.2 L307.5 557.7 L316.8 561.3 L314 562.2 L321.6 567.8 L319.4 569 L325.3 575.3 L324.3 577.5 L328.3 583.7 L328.8 587.5 L330.9 593.1 L330.9 593.1 L330.9 593.1 L327 588.6 L323.4 588.4 L319.6 580.7 L317.1 584.6 L312.8 574.7 L312.1 581.6 L306.8 570.2 L308.7 578.6 L302.3 566.4 L305.2 570.5 L298.6 562 L299.5 562.7Z"/>
<path fill="#fe2e6c" d="M296.9 558 L294.2 556.4 L294.2 556.5 L287.6 558.1 L289.5 557.7 L281.8 561.9 L285.7 561.2 L279.8 566.8 L282.9 566.4 L278.7 572 L280.7 572.6 L278.2 577.6 L278.9 579.8 L278.1 583.8 L278.1 583.8 L278.1 583.8 L280.8 580.6 L283.6 581.8 L285.8 575.3 L288 580.3 L290.2 571.1 L291.1 579.1 L293.9 568.1 L292.6 577.7 L296.1 565.3 L293 570.7 L297 561.8 L295.1 563.1Z"/>
<path fill="#fe2e6c" d="M296.9 558 L299.6 556.4 L299.6 556.5 L306.1 558.1 L304.3 557.7 L311.9 561.9 L308.1 561.2 L313.9 566.8 L310.8 566.4 L315 572 L313 572.6 L315.5 577.6 L314.8 579.8 L315.6 583.8 L315.6 583.8 L315.6 583.8 L312.9 580.6 L310.1 581.8 L307.9 575.3 L305.8 580.3 L303.5 571.1 L302.7 579.1 L299.8 568.1 L301.2 577.7 L297.7 565.3 L300.7 570.7 L296.8 561.8 L298.7 563.1Z"/>
<circle cx="296.9" cy="558" r="6.7" fill="#fe2e6c"/>
<path fill="#fe2e6c" d="M143 603 C143.5 606.6 147.4 623.1 150 629.2 C152.5 635.3 158.3 644 162.3 648.9 C166.2 653.8 176.7 664.4 179.6 666 C182.6 667.6 186.2 663.6 184.4 660.9 C182.7 658.1 170.7 649.6 166.7 645.2 C162.6 640.7 156.8 633.1 154.1 627.4 C151.4 621.6 147.6 605.3 146.1 602 C144.6 598.8 142.4 599.3 143 603Z"/>
<path fill="#fe2e6c" d="M144.5 602.5 L146.2 600.9 L146.3 600.2 L147.7 594.9 L147.3 595.7 L148.8 589.3 L147.3 591.5 L148 585.7 L146.5 587.4 L146.8 582.6 L145.4 583.5 L145.2 580.1 L144.1 579.7 L143.4 577.9 L143.4 577.9 L143.4 577.9 L142.6 579.8 L140.3 579.3 L141.2 583.7 L137.8 581.2 L140.1 587.7 L136 583.8 L139.4 591.9 L135 587.1 L139.9 596.1 L137.8 593.3 L141.8 600.4 L141.3 600.1Z"/>
<path fill="#fe2e6c" d="M144.5 602.5 L144.1 600.3 L144.6 599.5 L146.7 594.3 L146.6 595.1 L149.4 588.9 L149.4 591.4 L152.6 586.3 L152.8 588.5 L155.8 584.5 L156.5 585.9 L159 583.2 L160.2 583.6 L162.1 582.6 L162.1 582.6 L162.1 582.6 L161.3 584.7 L163.2 585.9 L159.5 588.8 L163.6 589.1 L157.6 592.7 L163.2 592.4 L155.4 596.6 L161.7 595.6 L152.3 599.8 L155.6 598.9 L148 602.3 L148.5 602.4Z"/>
<path fill="#fe2e6c" d="M144.5 602.5 L144.3 600.2 L143 599.3 L138.5 595 L138.3 595.6 L132.1 591.7 L132.9 593.8 L126.5 592.1 L127.4 593.9 L121.9 594 L122.2 595.5 L118.1 596.8 L117.4 598.3 L115.2 600.2 L115.2 600.2 L115.2 600.2 L118 599.7 L118.8 601.7 L123.1 599.6 L121.2 603.1 L127.5 600.3 L123.1 603.8 L131.5 601.5 L125.5 604 L135.6 602.4 L132.3 602.9 L140.7 603.1 L140.7 603.6Z"/>
<path fill="#fe2e6c" d="M144.5 602.5 L144.7 600.2 L146.3 599.1 L151 594.5 L151.5 594.9 L158 590.7 L157.5 592.8 L164.2 590.9 L163.7 592.7 L169.5 592.6 L169.5 594.2 L173.8 595.5 L174.9 597.1 L177.3 599 L177.3 599 L177.3 599 L174.3 598.5 L173.3 600.4 L168.6 598.3 L170.4 601.7 L163.7 599.1 L167.9 602.5 L159.2 600.4 L164.9 602.9 L154.5 601.7 L157.5 602.2 L148.7 602.8 L148.4 603.5Z"/>
<path fill="#fe2e6c" d="M144.5 602.5 L142.9 600.9 L141.8 601.1 L135.8 601.4 L136.1 601.9 L129 604.2 L130.8 605.1 L124.9 609 L126.2 610.2 L121.6 614.7 L122.1 616.5 L118.8 621.1 L118.2 624 L116.4 628.3 L116.4 628.3 L116.4 628.3 L119.5 624.9 L122.3 624.7 L125.4 619 L127.2 621.8 L130.8 614.6 L131.1 619.5 L135.7 611.3 L134 617.3 L139.5 608.5 L137.3 611.3 L142.8 605.4 L142.4 605.9Z"/>
<path fill="#fe2e6c" d="M144.5 602.5 L142.3 602.9 L142.1 603.3 L138.6 607.5 L139.3 607.3 L135.6 613.6 L137.5 613 L134.9 619.8 L136.5 620.3 L134.7 627 L135.8 629 L134.8 635.3 L135.3 639.1 L135.2 644.7 L135.2 644.7 L135.2 644.7 L136.8 639.3 L139.4 637 L139.9 629.7 L143.1 630.4 L142.7 621.5 L146 624.8 L145.1 614.9 L148 620 L146.3 609.5 L147.1 612.9 L146.1 605.1 L146 606.2Z"/>
<path fill="#fe2e6c" d="M144.5 602.5 L145.8 600.6 L147.2 600.6 L153.3 599.5 L153.2 600.1 L160.7 600.7 L159.1 602 L165.7 604.6 L164.5 605.9 L169.8 609.4 L169.5 611.2 L173.2 615 L174 617.6 L176.2 621.2 L176.2 621.2 L176.2 621.2 L172.9 618.6 L170.3 619 L166.6 614.2 L165.5 617.4 L160.8 611.1 L161.7 616.1 L155.7 609.1 L158.7 614.6 L151.4 607.3 L154 609.5 L147.1 605 L147.3 605.3Z"/>
<path fill="#fe2e6c" d="M144.5 602.5 L146.7 601.8 L146.8 601.9 L151.5 604 L150.4 603.7 L155.6 607.8 L153.1 607.3 L157.1 612.2 L155.1 612.1 L157.9 617 L156.7 617.9 L158.4 622.3 L158 624.6 L158.6 628.3 L158.6 628.3 L158.6 628.3 L156.6 625.1 L154.2 625 L152.8 619.5 L150.5 622.3 L149.4 614.9 L147.7 620.1 L146.5 611.4 L146.1 618.1 L144.7 608.4 L146 612.4 L144.1 605.3 L145.1 606.4Z"/>
<circle cx="144.5" cy="602.5" r="4.9" fill="#fe2e6c"/>
<path fill="#fe2e6c" d="M340.3 616.9 C338.5 618.7 332.1 628 329.3 631.8 C326.4 635.7 321.3 641.8 318.7 645.7 C316 649.5 310 658.3 309.5 660.8 C308.9 663.2 313 665.4 314.8 663.8 C316.5 662.1 320.5 652.3 322.9 648.4 C325.2 644.4 329.8 638.1 332.5 634.1 C335.1 630.1 341.5 620.8 342.6 618.5 C343.6 616.2 342 615.2 340.3 616.9Z"/>
<path fill="#fe2e6c" d="M341.4 617.7 L340 616.2 L340 615.8 L339 611.3 L339.3 612.4 L338.3 606.8 L339.5 609.1 L339.2 604.1 L340.4 606 L340.5 602 L341.6 603.1 L342 600.3 L343 600.3 L343.8 599 L343.8 599 L343.8 599 L344.4 600.5 L346.4 600 L345.4 603.6 L348.6 601.4 L346.1 606.8 L350.1 603.3 L346.5 610 L350.8 605.7 L345.9 613.2 L348 610.5 L343.9 616.3 L344.4 615.8Z"/>
<path fill="#fe2e6c" d="M341.4 617.7 L341.4 615.7 L341.1 615.3 L338.5 611.4 L339 612.3 L335.5 607.6 L336.3 610 L332.7 606.4 L333.2 608.5 L330 605.8 L330 607.3 L327.4 605.7 L326.7 606.4 L325 606 L325 606 L325 606 L325.9 607.5 L324.3 608.9 L327.9 610.4 L324.2 611.4 L329.9 613.2 L324.7 613.8 L332.1 615.7 L326.1 615.9 L334.9 617.5 L331.6 617.1 L338.6 618.4 L337.9 618.4Z"/>
<path fill="#fe2e6c" d="M341.4 617.7 L341.6 615.7 L342.7 614.9 L346.7 611 L346.8 611.5 L352.4 608 L351.6 609.9 L357.2 608.4 L356.5 610 L361.4 610 L361.1 611.4 L364.7 612.5 L365.3 613.8 L367.2 615.4 L367.2 615.4 L367.2 615.4 L364.7 615.1 L364.1 616.9 L360.2 615 L362 618.1 L356.4 615.7 L360.4 618.8 L353 616.8 L358.4 619 L349.3 617.7 L352.3 618 L344.8 618.2 L344.9 618.7Z"/>
<path fill="#fe2e6c" d="M341.4 617.7 L340.8 615.8 L339.4 615.2 L334.4 612.3 L334.1 612.8 L327.6 610.9 L328.5 612.5 L322.2 612.7 L323 614.1 L317.7 615.6 L317.8 617.1 L314.1 619.3 L313.1 621.2 L310.9 623.6 L310.9 623.6 L310.9 623.6 L314 622.3 L315.6 623.5 L319.6 620.4 L319.2 623.6 L324.6 619.6 L322.1 623.6 L329.1 619.5 L324.7 623.1 L333.3 619.4 L330.6 620.5 L338.1 618.9 L338.2 619.4Z"/>
<path fill="#fe2e6c" d="M341.4 617.7 L342.4 616 L343.6 615.8 L348.9 614.2 L348.8 614.8 L355.5 614.6 L354.1 615.9 L360.1 617.5 L359 618.7 L363.8 621.2 L363.5 622.7 L366.9 625.6 L367.6 627.7 L369.5 630.6 L369.5 630.6 L369.5 630.6 L366.6 628.7 L364.6 629.5 L361.1 625.7 L360.7 628.8 L356.2 623.7 L357.6 628.1 L351.8 622.5 L355.1 627.1 L347.9 621.4 L350.5 623.1 L344 619.7 L344.1 620Z"/>
<path fill="#fe2e6c" d="M341.4 617.7 L339.9 619.1 L339.8 619 L338.3 623.2 L338.7 622.2 L337.1 628.1 L338.5 626.6 L337.6 632.5 L339.1 632.1 L338.6 637.7 L339.9 638.7 L339.9 643.7 L340.8 646.3 L341.4 650.5 L341.4 650.5 L341.4 650.5 L342.2 646.3 L344.2 644.6 L343.6 638.7 L346.5 639.3 L344.8 632.1 L348.3 634.7 L345.5 626.6 L349.3 630.6 L345.3 622.2 L347.1 625 L343.7 619 L344.2 620Z"/>
<path fill="#fe2e6c" d="M341.4 617.7 L343.3 617 L343.8 617.3 L348.3 619.5 L347.6 619.5 L352.6 623.5 L350.7 623.5 L354.5 628.4 L353.1 628.9 L355.9 633.9 L355.1 635.3 L357 640.1 L357 642.9 L357.8 647 L357.8 647 L357.8 647 L355.7 643.3 L353.3 642.5 L351.7 636.8 L349.4 638.7 L348 631.4 L346.3 635.5 L344.7 627.3 L344.2 632.8 L342.5 623.8 L343.5 627 L341.4 620.5 L342 621.3Z"/>
<path fill="#fe2e6c" d="M341.4 617.7 L339.9 616.4 L339.6 616.4 L335 616.5 L336 616.6 L330.4 618.3 L332.8 618.5 L328.2 621.5 L330.1 621.8 L326.7 625 L327.9 625.7 L325.7 628.8 L325.9 630.4 L325 633 L325 633 L325 633 L327.1 631.1 L328.8 632 L330.9 628 L331.8 631.4 L334.3 625.7 L333.9 630.8 L337.1 624.1 L335 629.9 L339.1 622.5 L336.5 625.3 L340.6 620.2 L339.5 620.8Z"/>
<circle cx="341.4" cy="617.7" r="4.4" fill="#fe2e6c"/>
<path fill="#fe2e6c" d="M191.9 601.6 C210.2 621.2 231.2 628.3 252.3 628.3 C273.4 627.8 287.5 616.6 299.2 602 L299.7 604.8 C287.5 630.6 273.4 645.9 250 647 C226.6 646.6 205.5 628.3 192.3 604.8 Z"/>
<path fill="#fe2e6c" d="M160.8 675 C182.8 643.9 313.3 643.9 335.3 675Z M119.8 674.8 Q123.2 673 128.8 673 L364.6 673 Q370.2 673 373.6 674.8 Q370.2 676.5 364.6 676.5 L128.8 676.5 Q123.2 676.5 119.8 674.8Z M173.4 681.6 Q185.6 675.2 205.9 675.2 L318.1 675.2 Q338.4 675.2 350.6 681.6 Q338.4 687.9 318.1 687.9 L205.9 687.9 Q185.6 687.9 173.4 681.6Z M189.8 691.2 Q197 687.5 208.9 687.5 L309.7 687.5 Q321.6 687.5 328.8 691.2 Q321.6 694.9 309.7 694.9 L208.9 694.9 Q197 694.9 189.8 691.2Z M194.2 701.7 Q199.7 698.8 208.8 698.8 L279.2 698.8 Q288.3 698.8 293.8 701.7 Q288.3 704.5 279.2 704.5 L208.8 704.5 Q199.7 704.5 194.2 701.7Z M172.3 710 Q177.8 707.2 186.9 707.2 L283.6 707.2 Q292.7 707.2 298.1 710 Q292.7 712.8 283.6 712.8 L186.9 712.8 Q177.8 712.8 172.3 710Z M195.3 716.6 Q199.9 714.2 207.6 714.2 L254.1 714.2 Q261.8 714.2 266.4 716.6 Q261.8 719 254.1 719 L207.6 719 Q199.9 719 195.3 716.6Z M193.1 723.1 Q197.7 720.7 205.4 720.7 L233.3 720.7 Q241 720.7 245.6 723.1 Q241 725.5 233.3 725.5 L205.4 725.5 Q197.7 725.5 193.1 723.1Z M199.7 729.7 Q204.7 727.1 213.1 727.1 L230 727.1 Q238.4 727.1 243.4 729.7 Q238.4 732.3 230 732.3 L213.1 732.3 Q204.7 732.3 199.7 729.7Z M219.4 675 C226.8 672.1 259.7 671.7 267.5 675 C275.3 678.3 267.5 689.6 266.4 694.7 C265.3 699.8 263.7 702.7 260.9 705.6 C258.2 708.5 252.9 710 250 712.2 C247.1 714.4 245.4 716.2 243.4 718.8 C241.4 721.3 241.2 725.7 238 727.5 C234.7 729.3 227.9 729.7 223.8 729.7 C219.6 729.7 215.4 729 212.8 727.5 C210.3 726 207.3 723.5 208.4 720.9 C209.5 718.4 216.8 715.1 219.4 712.2 C221.9 709.3 223.2 706.7 223.8 703.4 C224.3 700.2 223.4 697.2 222.7 692.5 C221.9 687.8 211.9 677.9 219.4 675Z"/>
</g>
<!-- text -->
<g>
<text x="169.80" y="476.90" font-size="40" fill="#036b81" stroke="#036b81" stroke-width="1.3" stroke-linejoin="round" textLength="279.80" lengthAdjust="spacingAndGlyphs">Kreativitetstid</text>
<text x="555.50" y="411.25" font-size="40" fill="#37bb6d" stroke="#37bb6d" stroke-width="1.3" stroke-linejoin="round" textLength="193.85" lengthAdjust="spacingAndGlyphs">Medveten</text>
<text x="556.50" y="458.10" font-size="40" fill="#37bb6d" stroke="#37bb6d" stroke-width="1.3" stroke-linejoin="round" textLength="149.45" lengthAdjust="spacingAndGlyphs">närvaro</text>
<text x="812.80" y="541.10" font-size="40" fill="#8c0a0c" stroke="#8c0a0c" stroke-width="1.3" stroke-linejoin="round" textLength="160.40" lengthAdjust="spacingAndGlyphs">Fokustid</text>
<text x="946.60" y="799.50" font-size="40" fill="#ff5917" stroke="#ff5917" stroke-width="1.3" stroke-linejoin="round" textLength="129.00" lengthAdjust="spacingAndGlyphs">Motion</text>
<text x="698.20" y="1065.60" font-size="40" fill="#02accd" stroke="#02accd" stroke-width="1.3" stroke-linejoin="round" textLength="200.80" lengthAdjust="spacingAndGlyphs">Relationer</text>
<text x="441.60" y="1047.20" font-size="40" fill="#733a67" stroke="#733a67" stroke-width="1.3" stroke-linejoin="round" textLength="112.80" lengthAdjust="spacingAndGlyphs">Sömn</text>
<text x="131.20" y="775.10" font-size="40" fill="#fe2e6c" stroke="#fe2e6c" stroke-width="1.3" stroke-linejoin="round" textLength="271.80" lengthAdjust="spacingAndGlyphs">Återhämtning</text>
</g>
</svg>
</body>
</html>
